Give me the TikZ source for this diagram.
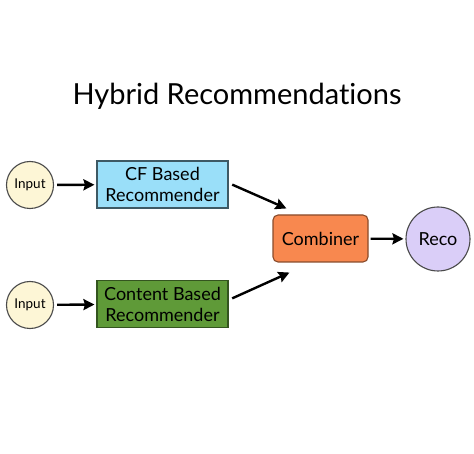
\documentclass[tikz,border=0pt]{standalone}
\usepackage{fontspec}
\setmainfont{Lato}[Ligatures=NoCommon]
\usepackage{tikz}
\usetikzlibrary{
  arrows.meta,
  positioning
}
\definecolor{hrInput}{HTML}{FDF6D6}
\definecolor{hrCF}{HTML}{9ADFF9}
\definecolor{hrContent}{HTML}{5F9A38}
\definecolor{hrComb}{HTML}{F8884F}
\definecolor{hrReco}{HTML}{DACEF8}
\definecolor{hrEdge}{HTML}{4A4A4A}
\tikzset{
  hrnode/.style={
    draw=hrEdge, line width=1.1pt, align=center, inner sep=0pt,
    font=\fontsize{18}{21}\selectfont
  },
  inputnode/.style={hrnode, circle, fill=hrInput, minimum size=47pt, font=\fontsize{13.5}{15}\selectfont},
  recobox/.style={hrnode, minimum width=131pt, minimum height=47pt},
  cfbox/.style={recobox, fill=hrCF, draw=hrCF!40!black},
  contentbox/.style={recobox, fill=hrContent, draw=hrContent!55!black},
  combbox/.style={hrnode, fill=hrComb, draw=hrComb!55!black, rounded corners=5pt,
    minimum width=95pt, minimum height=47pt},
  reconode/.style={hrnode, circle, fill=hrReco, minimum size=64pt},
  flow/.style={-{Stealth[length=11pt, width=11pt, inset=1.5pt]}, line width=2.4pt, black},
  title/.style={font=\fontsize{29}{34}\selectfont}
}

\begin{document}
\begin{tikzpicture}[x=1pt, y=1pt]
  \useasboundingbox (0,0) rectangle (474,-454);
  \node[title] (ttl) at (237,-96) {Hybrid Recommendations};

  \node[inputnode] (in1) at (30,-185) {Input};
  \node[cfbox] (cf) at (162.5,-184.5) {CF Based\\Recommender};
  \node[inputnode] (in2) at (30,-305) {Input};
  \node[contentbox] (cb) at (162.5,-304) {Content Based\\Recommender};
  \node[combbox] (comb) at (320.5,-238.5) {Combiner};
  \node[reconode] (reco) at (438,-239) {Reco};

  \draw[flow, shorten <=3pt, shorten >=2pt] (in1) -- (cf);
  \draw[flow, shorten <=3pt, shorten >=2pt] (in2) -- (cb);
  \draw[flow, shorten <=4pt] ([yshift=1.5pt]cf.east) -- ([shift={(14pt,6pt)}]comb.north west);
  \draw[flow, shorten <=4pt] ([yshift=4pt]cb.east) -- ([shift={(17pt,-10pt)}]comb.south west);
  \draw[flow, shorten <=2pt, shorten >=2pt] (comb) -- (reco);
\end{tikzpicture}
\end{document}
